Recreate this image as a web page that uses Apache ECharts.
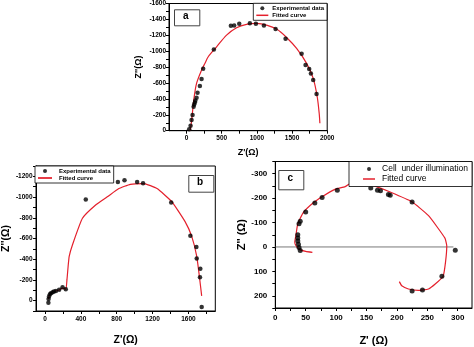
<!DOCTYPE html>
<html><head><meta charset="utf-8">
<script src="https://cdn.jsdelivr.net/npm/echarts@6/dist/echarts.min.js"></script>
<style>html,body{margin:0;padding:0;background:#fff}#c{width:474px;height:347px}</style>
</head><body><div id="c"></div>
<script>
// ---------- Panel a ----------
const aExperimental = [[37,-17],[57,-63],[71,-134],[85,-197],[100,-300],[108,-330],[118,-355],[125,-380],[142,-415],[156,-477],[189,-561],[213,-650],[236,-780],[388,-1022],[630,-1320],[677,-1324],[749,-1344],[900,-1353],[986,-1344],[1100,-1324],[1266,-1278],[1408,-1156],[1636,-967],[1692,-825],[1744,-775],[1768,-721],[1801,-637],[1849,-461]];
const aFitted = [[45,0],[57,-30],[80,-197],[104,-398],[142,-595],[213,-762],[260,-846],[308,-930],[427,-1055],[569,-1202],[711,-1294],[853,-1337],[996,-1349],[1138,-1328],[1280,-1278],[1422,-1173],[1565,-1035],[1707,-847],[1801,-658],[1858,-427],[1886,-219],[1896,-93]];
const aXLabels = [0,500,1000,1500,2000];
const aXTicks = [0,250,500,750,1000,1250,1500,1750,2000];
const aYLabels = [-1600,-1400,-1200,-1000,-800,-600,-400,-200,0];
const aYTicks = [-1600,-1500,-1400,-1300,-1200,-1100,-1000,-900,-800,-700,-600,-500,-400,-300,-200,-100,0];

// ---------- Panel b ----------
const bExperimental = [[38,20],[40,-15],[45,-40],[55,-62],[66,-72],[85,-80],[100,-88],[122,-94],[158,-104],[196,-130],[232,-110],[455,-977],[813,-1145],[887,-1162],[1028,-1145],[1094,-1133],[1408,-948],[1622,-626],[1689,-518],[1693,-406],[1733,-308],[1729,-225],[1748,62]];
const bFitted = [[37,-14],[48,-50],[66,-72],[103,-88],[159,-103],[196,-120],[233,-110],[245,-200],[258,-330],[270,-428],[307,-540],[418,-795],[565,-923],[695,-1002],[824,-1082],[953,-1123],[1101,-1130],[1250,-1082],[1416,-954],[1563,-763],[1637,-620],[1693,-428],[1722,-237],[1748,-46]];
const bXLabels = [0,400,800,1200,1600];
const bXTicks = [0,200,400,600,800,1000,1200,1400,1600,1800];
const bYLabels = [-1200,-1000,-800,-600,-400,-200,0];
const bYTicks = [-1300,-1200,-1100,-1000,-900,-800,-700,-600,-500,-400,-300,-200,-100,0,100];

// ---------- Panel c ----------
const cExperimental = [[41,15],[39,2],[38,-11],[37,-24],[37,-37],[37,-50],[39,-95],[41,-105],[50,-143],[65,-180],[77,-203],[102,-232],[157,-241],[168,-232],[173,-230],[186,-215],[189,-212],[225,-184],[296,13],[274,120],[242,176],[225,180]];
const cFitted = [[61,22],[50,18],[41,12],[34,-5],[32,-20],[34,-50],[37,-95],[46,-141],[62,-180],[77,-206],[98,-236],[115,-247],[126,-264],[145,-264],[164,-249],[189,-225],[224,-186],[252,-128],[279,-36],[282,-4],[280,61],[276,120],[263,152],[252,172],[235,178],[219,172],[208,159],[204,142]];
const cZeroLine = [[0,0],[293,0]];
const cXLabels = [0,50,100,150,200,250,300];
const cXTicks = [0,25,50,75,100,125,150,175,200,225,250,275,300];
const cYLabels = [-300,-200,-100,0,100,200];
const cYTicks = [-350,-300,-250,-200,-150,-100,-50,0,50,100,150,200,250];

const FONT = "'Liberation Sans', Arial, sans-serif";
const RED = '#e4202c';
const LINE_ICON = 'path://M0,0H24V3H0Z';

function axis(o) {
  return {
    type: 'value', gridIndex: o.grid, min: o.min, max: o.max, inverse: !!o.inverse,
    axisLine: { onZero: false, lineStyle: { color: '#000', width: 1 } },
    axisTick: { customValues: o.ticks, length: 3, lineStyle: { color: '#000', width: 1 } },
    axisLabel: { customValues: o.labels, formatter: v => String(v), fontSize: o.fs, fontWeight: 'bold', color: '#000', margin: o.margin, fontFamily: FONT },
    splitLine: { show: false },
    name: o.name, nameLocation: 'middle', nameGap: o.nameGap,
    nameTextStyle: { fontSize: o.nfs, fontWeight: 'bold', color: '#000', fontFamily: FONT }
  };
}

function legend(o) {
  return Object.assign({
    orient: 'vertical', selectedMode: false, symbolKeepAspect: true,
    backgroundColor: '#fff', borderColor: '#000', borderWidth: 0.8,
    itemGap: 1, itemWidth: o.iw || 12, itemHeight: 4,
    textStyle: { fontSize: o.fs, fontWeight: o.fw || 'bold', color: '#000', fontFamily: FONT, padding: [0,0,0,o.tp || -1] }
  }, o.pos, { data: o.data, padding: o.padding });
}

const chart = echarts.init(document.getElementById('c'), null, { renderer: 'canvas' });
chart.setOption({
  animation: false,
  backgroundColor: '#fff',
  grid: [
    { left: 169, top: 3.3, width: 158.2, height: 127.4, show: true, borderColor: '#000', borderWidth: 1 },
    { left: 35, top: 166, width: 180.3, height: 145.7, show: true, borderColor: '#000', borderWidth: 1 },
    { left: 275.3, top: 161.5, width: 196.7, height: 152.8, show: true, borderColor: '#000', borderWidth: 1 }
  ],
  xAxis: [
    axis({ grid: 0, min: -250, max: 2000, ticks: aXTicks, labels: aXLabels, fs: 6.5, margin: 4, name: "Z'(Ω)", nameGap: 17, nfs: 9 }),
    axis({ grid: 1, min: -100, max: 1900, ticks: bXTicks, labels: bXLabels, fs: 6.5, margin: 5, name: "Z'(Ω)", nameGap: 24, nfs: 10.5 }),
    axis({ grid: 2, min: 0, max: 323.5, ticks: cXTicks, labels: cXLabels, fs: 8, margin: 6, name: "Z' (Ω)", nameGap: 27, nfs: 11 })
  ],
  yAxis: [
    axis({ grid: 0, min: -1600, max: 0, inverse: true, ticks: aYTicks, labels: aYLabels, fs: 6.5, margin: 3, name: "Z''(Ω)", nameGap: 26, nfs: 9 }),
    axis({ grid: 1, min: -1300, max: 100, inverse: true, ticks: bYTicks, labels: bYLabels, fs: 6.5, margin: 3.5, name: "Z''(Ω)", nameGap: 23, nfs: 10.5 }),
    axis({ grid: 2, min: -350, max: 250, inverse: true, ticks: cYTicks, labels: cYLabels, fs: 8, margin: 8, name: "Z'' (Ω)", nameGap: 22, nfs: 11 })
  ],
  legend: [
    legend({ pos: { right: 147, top: 3.3 }, fs: 6, padding: [2,3,2,3], data: [{ name: 'Experimental data', icon: 'circle' }, { name: 'Fitted curve', icon: LINE_ICON }] }),
    legend({ pos: { left: 35, top: 166 }, fs: 6, iw: 14, tp: 2, padding: [2,3,2,3], data: [{ name: 'Experimental data', icon: 'circle' }, { name: 'Fitted curve', icon: LINE_ICON }] }),
    legend({ pos: { right: 2, top: 161.5 }, fs: 8.5, fw: 'normal', iw: 12, tp: 2, padding: [3,4,3,14], data: [{ name: 'Cell  under illumination', icon: 'circle' }, { name: 'Fitted curve', icon: LINE_ICON }] })
  ],
  graphic: [
    { type: 'rect', left: 174, top: 9.3, shape: { width: 25.3, height: 16 }, style: { fill: '#fff', stroke: '#444', lineWidth: 1 }, z: 10 },
    { type: 'text', left: 183, top: 11.5, style: { text: 'a', font: 'bold 10px ' + FONT, fill: '#000' }, z: 11 },
    { type: 'rect', left: 188.3, top: 175, shape: { width: 25, height: 16.7 }, style: { fill: '#fff', stroke: '#444', lineWidth: 1 }, z: 10 },
    { type: 'text', left: 197, top: 177.5, style: { text: 'b', font: 'bold 10px ' + FONT, fill: '#000' }, z: 11 },
    { type: 'rect', left: 278.3, top: 170, shape: { width: 25, height: 19.3 }, style: { fill: '#fff', stroke: '#444', lineWidth: 1 }, z: 10 },
    { type: 'text', left: 287.5, top: 173.5, style: { text: 'c', font: 'bold 10px ' + FONT, fill: '#000' }, z: 11 }
  ],
  series: [
    { name: 'Fitted curve', type: 'line', xAxisIndex: 0, yAxisIndex: 0, data: aFitted, smooth: 0.3, symbol: 'none', lineStyle: { color: RED, width: 1.2 }, itemStyle: { color: RED }, z: 2 },
    { name: 'Experimental data', type: 'scatter', xAxisIndex: 0, yAxisIndex: 0, data: aExperimental, symbolSize: 4.5, itemStyle: { color: '#000' }, z: 3 },
    { name: 'Fitted curve', type: 'line', xAxisIndex: 1, yAxisIndex: 1, data: bFitted, smooth: 0.15, symbol: 'none', lineStyle: { color: RED, width: 1.2 }, itemStyle: { color: RED }, z: 2 },
    { name: 'Experimental data', type: 'scatter', xAxisIndex: 1, yAxisIndex: 1, data: bExperimental, symbolSize: 4.5, itemStyle: { color: '#000' }, z: 3 },
    { name: 'zero', type: 'line', xAxisIndex: 2, yAxisIndex: 2, data: cZeroLine, symbol: 'none', silent: true, lineStyle: { color: '#555', width: 0.8 }, z: 1 },
    { name: 'Fitted curve', type: 'line', xAxisIndex: 2, yAxisIndex: 2, data: cFitted, smooth: 0.15, symbol: 'none', lineStyle: { color: RED, width: 1.2 }, itemStyle: { color: RED }, z: 2 },
    { name: 'Cell  under illumination', type: 'scatter', xAxisIndex: 2, yAxisIndex: 2, data: cExperimental, symbolSize: 5, itemStyle: { color: '#000' }, z: 3 }
  ]
});
</script></body></html>
